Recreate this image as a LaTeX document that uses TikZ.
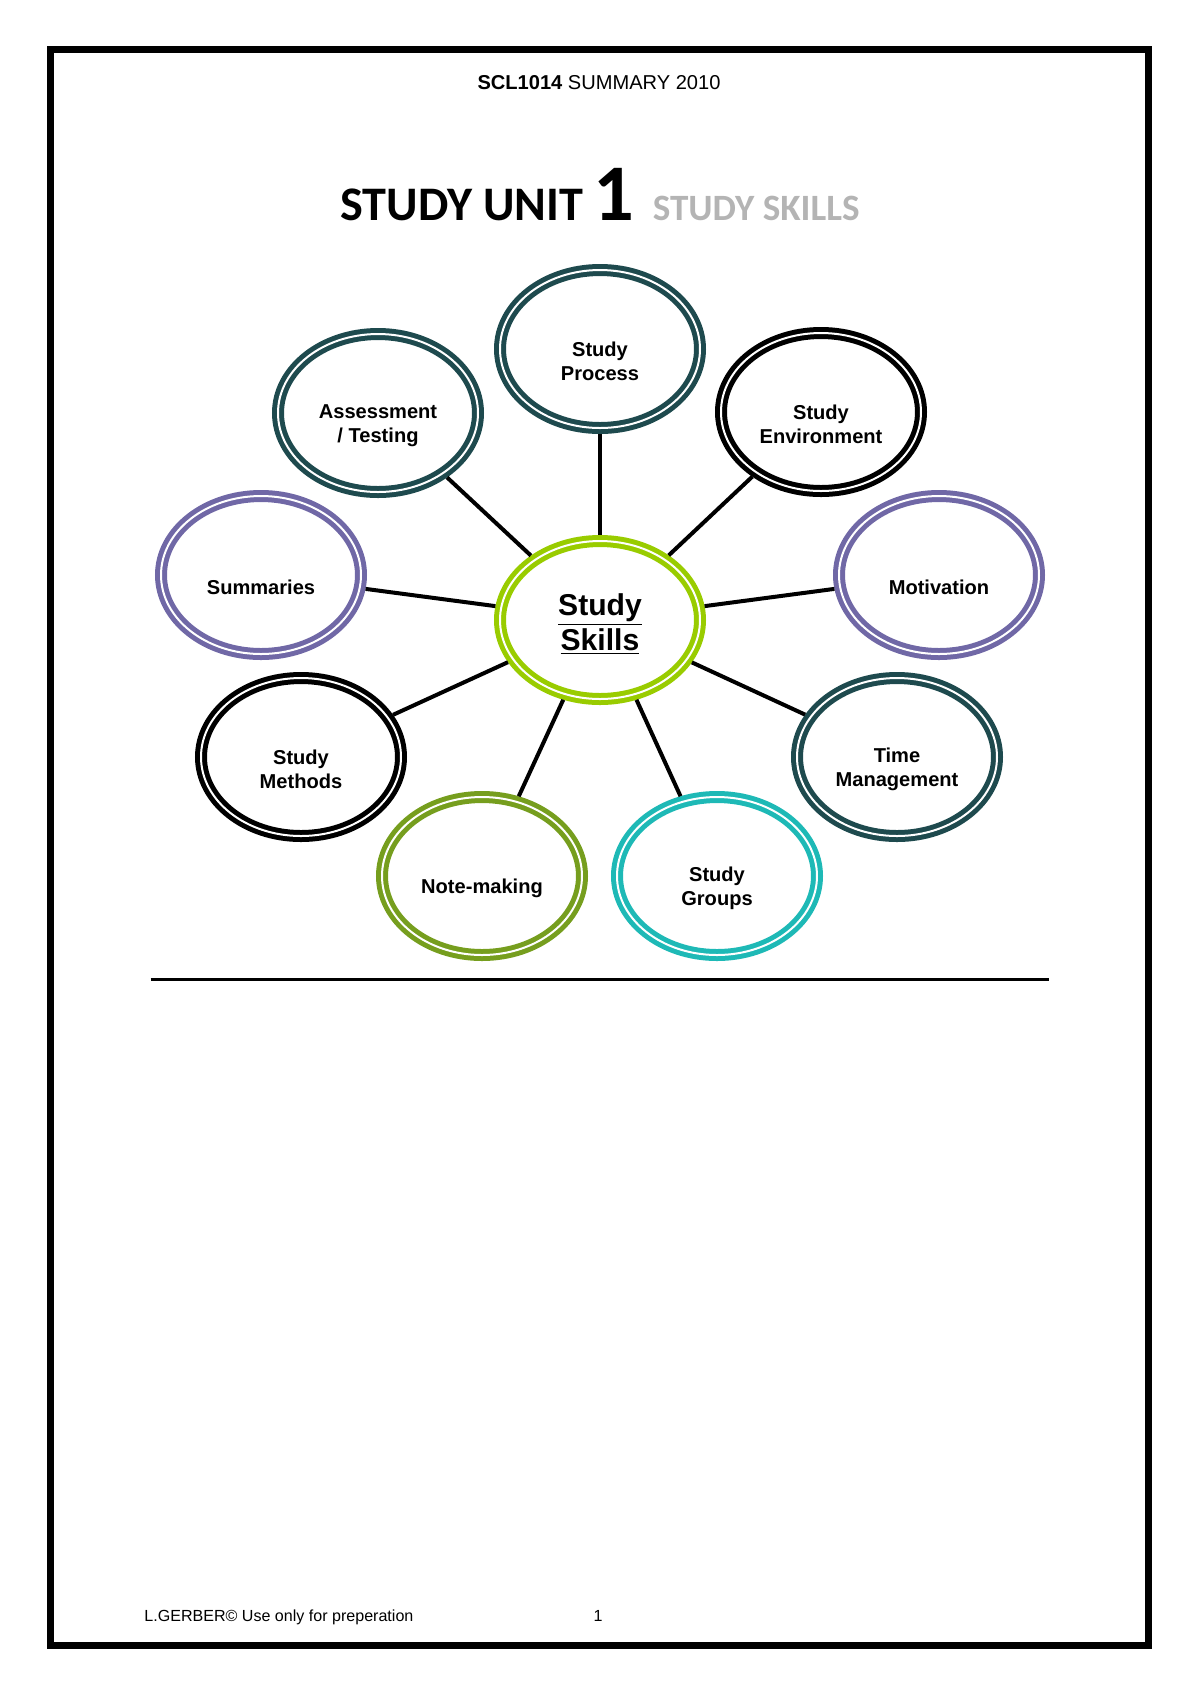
\documentclass[tikz,border=0pt]{standalone}
\usepackage{fontspec}
\setmainfont{Liberation Sans}
\newfontfamily\calibri{Carlito}
\usepackage{xcolor}
\usetikzlibrary{shapes.geometric}

\newlength{\pxu}
\setlength{\pxu}{0.175mm}

\definecolor{tealdark}{RGB}{30,74,78}
\definecolor{purplegray}{RGB}{112,104,166}
\definecolor{olivegreen}{RGB}{118,158,30}
\definecolor{cyanteal}{RGB}{30,185,182}
\definecolor{limegreen}{RGB}{153,204,0}
\definecolor{titlegray}{RGB}{180,180,180}

\tikzset{
  bubble/.style={ellipse, draw=#1, double=white, double distance=2\pxu,
    line width=5\pxu, minimum width=200\pxu, minimum height=158\pxu,
    inner sep=0pt, outer sep=6\pxu},
  bubbletext/.style={font=\bfseries\fontsize{10}{11.8}\selectfont,
    align=center, inner sep=0pt},
  spoke/.style={line width=4\pxu, black},
}

\begin{document}
\begin{tikzpicture}[x=0.175mm, y=-0.175mm]
  \useasboundingbox (0,0) rectangle (1200,1696);

  % page frame
  \draw[line width=6.5\pxu] (50.5,49.5) rectangle (1148.7,1645.5);

  % header and title
  \node[anchor=base, inner sep=0pt, font=\fontsize{10}{12}\selectfont] (header) at (599,89)
    {\textbf{SCL1014} SUMMARY 2010};
  \node[anchor=base, inner sep=0pt] (title) at (600,220)
    {\calibri\bfseries\fontsize{24}{28}\selectfont STUDY UNIT
     \fontsize{40}{44}\selectfont 1
     \fontsize{18.5}{22}\selectfont\textcolor{titlegray}{STUDY SKILLS}};

  % centre bubble
  \node[bubble=limegreen] (skills) at (600,620) {};
  \node[font=\bfseries\fontsize{15}{17.3}\selectfont, align=center, inner sep=0pt]
    (skills-t) at ([yshift=-4\pxu]skills.center) {\underline{Study}\\\underline{Skills}};

  % outer bubbles
  \node[bubble=tealdark]   (process)     at (600,349) {};
  \node[bubble=black]      (environment) at (821,412) {};
  \node[bubble=tealdark]   (assessment)  at (378,413) {};
  \node[bubble=purplegray] (summaries)   at (261,575) {};
  \node[bubble=purplegray] (motivation)  at (939,575) {};
  \node[bubble=black]      (methods)     at (301,757) {};
  \node[bubble=tealdark]   (timemgmt)    at (897,757) {};
  \node[bubble=olivegreen] (notemaking)  at (482,876) {};
  \node[bubble=cyanteal]   (groups)      at (717,876) {};

  % bubble texts, set a little below the centre
  \node[bubbletext] (process-t)     at ([yshift=-12\pxu]process.center)     {Study\\Process};
  \node[bubbletext] (environment-t) at ([yshift=-12\pxu]environment.center) {Study\\Environment};
  \node[bubbletext] (assessment-t)  at ([yshift=-13\pxu]assessment.center)  {Assessment\\/ Testing};
  \node[bubbletext] (summaries-t)   at ([yshift=-12\pxu]summaries.center)   {Summaries};
  \node[bubbletext] (motivation-t)  at ([yshift=-12\pxu]motivation.center)  {Motivation};
  \node[bubbletext] (methods-t)     at ([yshift=-12\pxu]methods.center)     {Study\\Methods};
  \node[bubbletext] (timemgmt-t)    at ([yshift=-12\pxu]timemgmt.center)    {Time\\Management};
  \node[bubbletext] (notemaking-t)  at ([yshift=-12\pxu]notemaking.center)  {Note-making};
  \node[bubbletext] (groups-t)      at ([yshift=-12\pxu]groups.center)      {Study\\Groups};

  % spokes
  \foreach \n in {process,environment,assessment,summaries,motivation,methods,timemgmt,notemaking,groups}
    \draw[spoke] (skills) -- (\n);

  % rule under the diagram
  \coordinate (ruleL) at (150.5,979.3);
  \coordinate (ruleR) at (1049,979.3);
  \draw[line width=2.5\pxu] (ruleL) -- (ruleR);

  % footer
  \node[anchor=base west, inner sep=0pt, font=\fontsize{8}{10}\selectfont] (footer) at (144,1621)
    {L.GERBER\textcopyright{} Use only for preperation};
  \node[anchor=base, inner sep=0pt, font=\fontsize{8}{10}\selectfont] (pagenum) at (598,1621) {1};
\end{tikzpicture}
\end{document}
